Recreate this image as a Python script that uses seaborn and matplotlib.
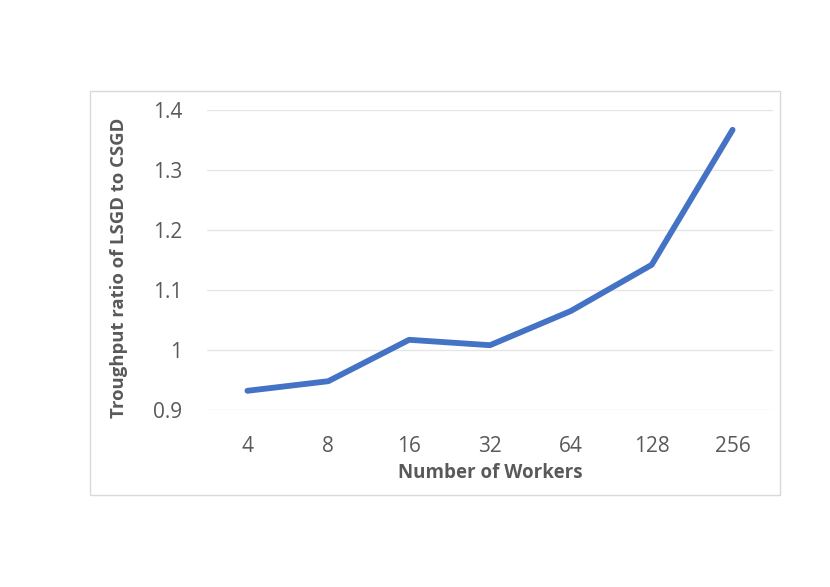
import pandas as pd
import seaborn as sns
from matplotlib import pyplot as plt
from matplotlib.patches import Rectangle

workers = ['4', '8', '16', '32', '64', '128', '256']
ratio = [0.932, 0.948, 1.017, 1.008, 1.065, 1.142, 1.367]
ytick_vals = [0.9, 1.0, 1.1, 1.2, 1.3, 1.4]
ytick_labels = ['0.9', '1', '1.1', '1.2', '1.3', '1.4']

sns.set_style('white')
plt.rcParams['font.family'] = ['Open Sans', 'DejaVu Sans']

df = pd.DataFrame({'workers': workers, 'ratio': ratio})

fig = plt.figure(figsize=(8.3, 5.87), dpi=100)
# light chart border like the excel chart area
fig.patches.append(Rectangle((90 / 830, 1 - 495 / 587), 690 / 830, 404 / 587,
                             transform=fig.transFigure, fill=False,
                             edgecolor='#D9D9D9', linewidth=1))
ax = fig.add_axes([207 / 830, 1 - 410 / 587, 566 / 830, 300 / 587])

sns.lineplot(data=df, x='workers', y='ratio', ax=ax, color='#4472C4',
             linewidth=4.2, solid_capstyle='round', solid_joinstyle='round')

ax.set_xlim(-0.5, len(workers) - 0.5)
ax.set_ylim(0.9, 1.4)
ax.set_yticks(ytick_vals)
ax.set_yticklabels(ytick_labels)
ax.yaxis.grid(True, color='#E6E6E6', linewidth=1)
ax.xaxis.grid(False)
for s in ax.spines.values():
    s.set_visible(False)
ax.tick_params(axis='both', length=0, labelsize=15, labelcolor='#595959')
ax.tick_params(axis='y', pad=18)
ax.tick_params(axis='x', pad=19)

ax.set_xlabel('Number of Workers', fontsize=13.5, fontweight='bold', color='#595959', labelpad=4)
ax.set_ylabel('Troughput ratio of LSGD to CSGD', fontsize=13.3, fontweight='bold', color='#595959')
ax.yaxis.set_label_coords(-0.140, 0.475)

plt.savefig('out.png', dpi=100)
